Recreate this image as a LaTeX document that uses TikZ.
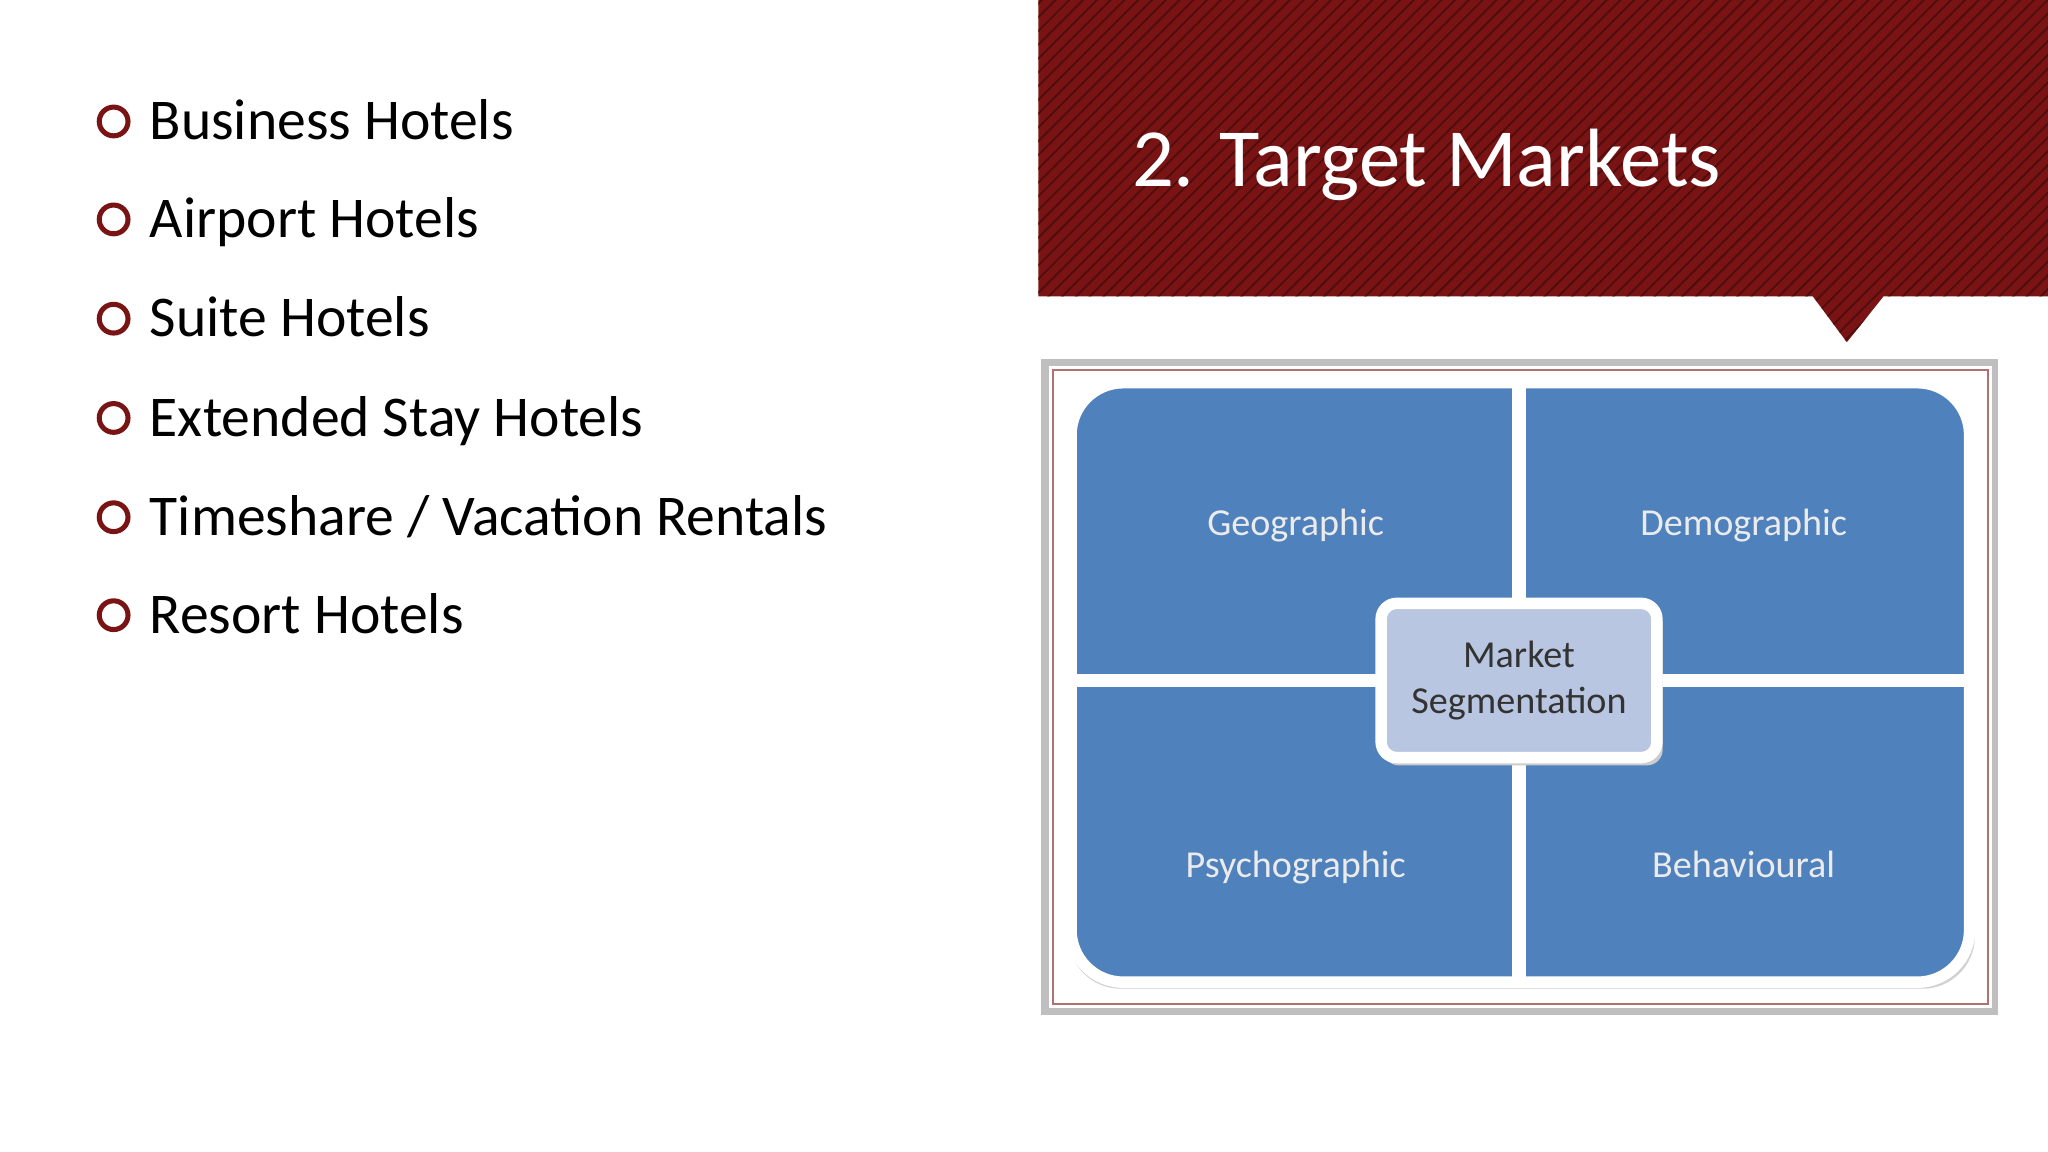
\documentclass[tikz,border=0pt]{standalone}
\usepackage{fontspec}
\setmainfont{Carlito}
\usetikzlibrary{patterns}
\definecolor{bred}{HTML}{7A1414}
\definecolor{bblue}{HTML}{4F81BD}
\definecolor{cbox}{HTML}{B9C6E1}
\begin{document}
\begin{tikzpicture}[x=0.01cm,y=-0.01cm,
  bul/.style={draw=bred,line width=1.1pt,circle,minimum size=0.22cm,inner sep=0pt},
  btxt/.style={anchor=base west,font=\fontsize{12.55}{14}\selectfont,inner sep=0pt},
  qlab/.style={anchor=base,font=\fontsize{8.3}{10}\selectfont,text=white!92!black}]
\useasboundingbox (0,0) rectangle (1568,882);
\fill[white] (0,0) rectangle (1568,882);
% bullets
\foreach \i/\t/\y in {1/{Business Hotels}/93,2/{Airport Hotels}/168,3/{Suite Hotels}/244,4/{Extended Stay Hotels}/320,5/{Timeshare {/} Vacation Rentals}/396,6/{Resort Hotels}/471}{
  \node[bul] (b\i) at (87,\y) {};
  \node[btxt] (t\i) at (114,\y+14) {\t};
}
% banner
\fill[bred] (795,0) -- (1568,0) -- (1568,227) -- (1442,227) -- (1414,262) -- (1388,227) -- (795,227) -- cycle;
\fill[pattern=north east lines,pattern color=black!35!bred] (795,0) -- (1568,0) -- (1568,227) -- (1442,227) -- (1414,262) -- (1388,227) -- (795,227) -- cycle;
\node[anchor=base west,text=white,font=\fontsize{18}{22}\selectfont,inner sep=0pt] (title) at (866,143) {2. Target Markets};
% frame
\fill[black!25] (797,275) rectangle (1530,777);
\fill[white] (803,280) rectangle (1525,772);
\draw[bred!60,line width=0.4pt] (806,283) rectangle (1522,769);
% blue quad
\fill[black!18] (818,298) [rounded corners=0.4cm] rectangle (1512,757);
\draw[white,line width=2.5pt,fill=bblue,rounded corners=0.4cm] (820,293) rectangle (1508,752);
\draw[white,line width=3pt] (1163,293) -- (1163,752);
\draw[white,line width=3pt] (820,521) -- (1508,521);
\node[qlab] (geo) at (992,410) {Geographic};
\node[qlab] (dem) at (1335,410) {Demographic};
\node[qlab] (psy) at (992,672) {Psychographic};
\node[qlab] (beh) at (1335,672) {Behavioural};
\fill[black!20,rounded corners=0.12cm] (1059,466) rectangle (1273,586);
\node[draw=white,line width=2.5pt,fill=cbox,rounded corners=0.12cm,minimum width=2.11cm,minimum height=1.18cm,align=center,font=\fontsize{8.3}{10}\selectfont,text=black!80] (ms) at (1163,521) {Market\\Segmentation};
\end{tikzpicture}
\end{document}
